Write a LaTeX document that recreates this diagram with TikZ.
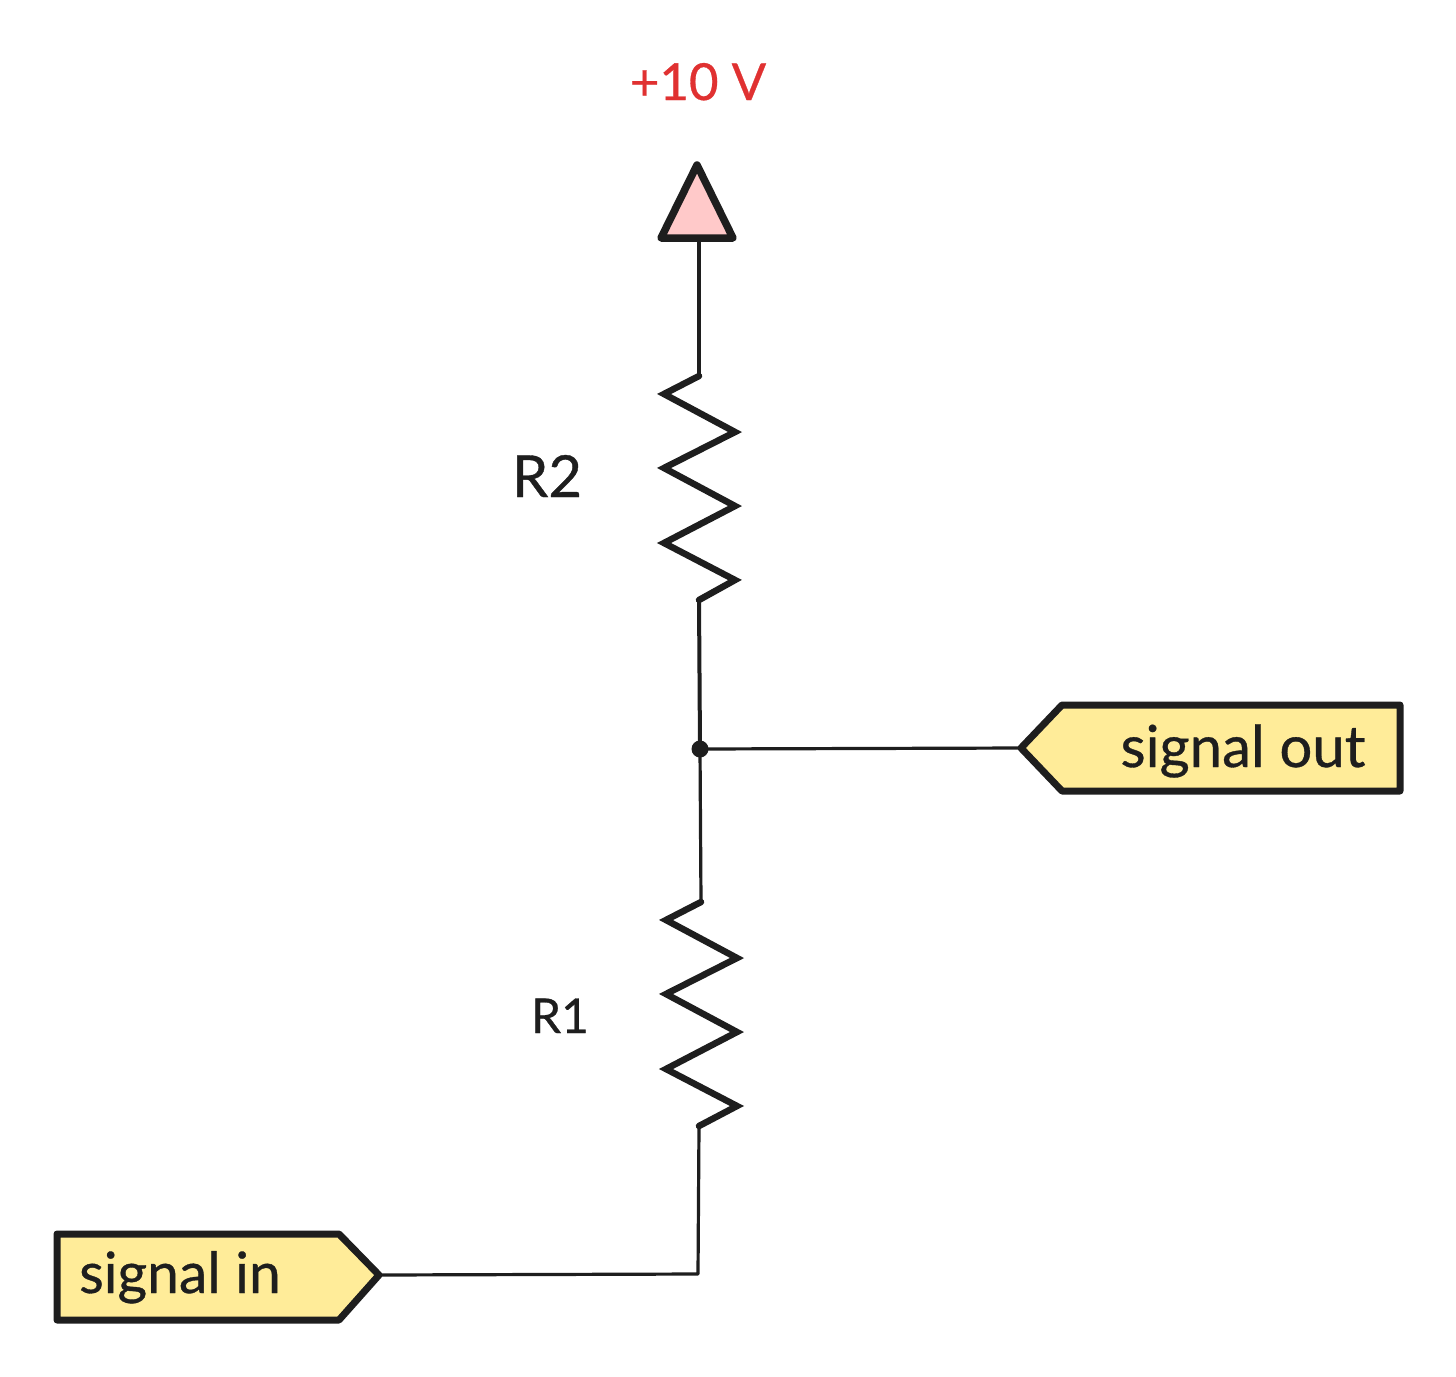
\documentclass[tikz,border=0pt]{standalone}
\usepackage{fontspec}
\setmainfont{Lato}
\definecolor{ink}{HTML}{1E1E1E}
\definecolor{flagfill}{HTML}{FFEC99}
\definecolor{triafill}{HTML}{FFC9C9}
\definecolor{redtxt}{HTML}{E03131}
\newcommand{\labsize}[1]{\fontsize{#1}{#1}\selectfont\addfontfeature{FakeBold=0.6}}
\tikzset{
  x=1pt,y=-1pt,
  wire/.style={draw=ink,line width=3.2pt,line cap=round,line join=round},
  res/.style={draw=ink,line width=6.5pt,line cap=round,line join=miter},
  flag/.style={draw=ink,fill=flagfill,line width=7pt,line join=round},
  tria/.style={draw=ink,fill=triafill,line width=7.5pt,line join=round},
  lab/.style={inner sep=0pt,text=ink,anchor=base},
}
\begin{document}
\begin{tikzpicture}
\useasboundingbox (0,0) rectangle (1456,1376);
\fill[white] (0,0) rectangle (1456,1376);
% anchor points
\coordinate (vcc) at (699,240);
\coordinate (r2top) at (699,376);
\coordinate (r2bot) at (699,600);
\coordinate (junction) at (700,749);
\coordinate (r1top) at (701,902);
\coordinate (r1bot) at (699,1126);
\coordinate (corner) at (698,1274);
\coordinate (sigin) at (379,1275);
\coordinate (sigout) at (1021,748);
% wires
\draw[wire] (vcc) -- (r2top);
\draw[wire,line width=4pt] (r2bot) -- (junction);
\draw[wire] (junction) -- (r1top);
\draw[wire] (r1bot) -- (corner) -- (sigin);
\draw[wire] (junction) -- (sigout);
% junction dot
\fill[ink] (junction) circle (8.5);
% resistors
\draw[res] (r2top) -- (664,394) -- (735,432) -- (664,468) -- (735,506) -- (664,543) -- (735,580) -- (r2bot);
\draw[res] (r1top) -- (666,920) -- (737,958) -- (666,994) -- (737,1032) -- (666,1069) -- (737,1106) -- (r1bot);
% supply triangle
\draw[tria] (697,165) -- (733,238) -- (661,238) -- cycle;
% flags
\draw[flag] (sigout) -- (1062,705) -- (1400,705) -- (1400,791) -- (1062,791) -- cycle;
\draw[flag] (57,1234) -- (339,1234) -- (sigin) -- (339,1320) -- (57,1320) -- cycle;
% labels
\node[lab,text=redtxt,font=\labsize{51}] (vlabel) at (698,100) {+10 V};
\node[lab,font=\labsize{58}] (r2label) at (547,497) {R2};
\node[lab,font=\labsize{48}] (r1label) at (560,1033) {R1};
\node[lab,font=\labsize{58}] (outlabel) at (1243,767) {signal out};
\node[lab,font=\labsize{57}] (inlabel) at (180,1293) {signal in};
\end{tikzpicture}
\end{document}
